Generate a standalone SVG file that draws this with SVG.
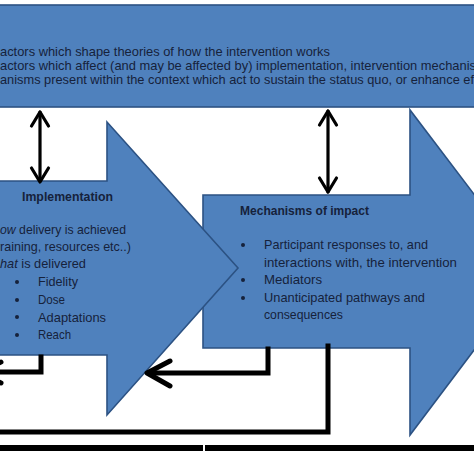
<svg xmlns="http://www.w3.org/2000/svg" width="474" height="474" viewBox="0 0 474 474">
<style>
.shape{fill:#4f81bd;stroke:#2c5283;stroke-width:1.6}
.t{font-family:"Liberation Sans",Arial,sans-serif;font-size:12.8px;fill:#16223b}
.b{font-weight:bold}
.i{font-style:italic}
.ln{fill:none;stroke:#000;stroke-width:5;stroke-linecap:square;stroke-linejoin:miter}
.hd{fill:none;stroke:#000;stroke-width:5;stroke-linecap:round;stroke-linejoin:round}
.dbl{fill:none;stroke:#000;stroke-width:3.2;stroke-linecap:round;stroke-linejoin:round}
</style>
<rect width="474" height="474" fill="#fff"/>
<g id="mechanisms">
<polygon class="shape" points="203,195 410,195 410,110 533,272 410,435 410,348 203,348"/>
<text class="t b" x="240" y="215" textLength="129" lengthAdjust="spacingAndGlyphs">Mechanisms of impact</text>
<circle cx="243" cy="245" r="2" fill="#16223b"/>
<circle cx="243" cy="280" r="2" fill="#16223b"/>
<circle cx="243" cy="298" r="2" fill="#16223b"/>
<text class="t" x="264" y="249" textLength="164" lengthAdjust="spacingAndGlyphs">Participant responses to, and</text>
<text class="t" x="264" y="266.5" textLength="193" lengthAdjust="spacingAndGlyphs">interactions with, the intervention</text>
<text class="t" x="264" y="284" textLength="58" lengthAdjust="spacingAndGlyphs">Mediators</text>
<text class="t" x="264" y="302" textLength="161" lengthAdjust="spacingAndGlyphs">Unanticipated pathways and</text>
<text class="t" x="264" y="318.5" textLength="79" lengthAdjust="spacingAndGlyphs">consequences</text>
</g>
<g id="implementation">
<polygon class="shape" points="-10,181 107,181 107,122 238,268 107,415 107,355 -10,355"/>
<text class="t b" x="22" y="201" textLength="91" lengthAdjust="spacingAndGlyphs">Implementation</text>
<text class="t" x="0" y="234" textLength="126" lengthAdjust="spacingAndGlyphs"><tspan class="i">ow</tspan> delivery is achieved</text>
<text class="t" x="0" y="251" textLength="131" lengthAdjust="spacingAndGlyphs">raining, resources  etc..)</text>
<text class="t" x="0" y="267.5" textLength="86" lengthAdjust="spacingAndGlyphs"><tspan class="i">hat</tspan> is delivered</text>
<circle cx="17" cy="282" r="2" fill="#16223b"/>
<circle cx="17" cy="300" r="2" fill="#16223b"/>
<circle cx="17" cy="317" r="2" fill="#16223b"/>
<circle cx="17" cy="335" r="2" fill="#16223b"/>
<text class="t" x="38" y="286" textLength="40" lengthAdjust="spacingAndGlyphs">Fidelity</text>
<text class="t" x="38" y="304" textLength="27" lengthAdjust="spacingAndGlyphs">Dose</text>
<text class="t" x="38" y="321.5" textLength="68" lengthAdjust="spacingAndGlyphs">Adaptations</text>
<text class="t" x="38" y="339" textLength="33" lengthAdjust="spacingAndGlyphs">Reach</text>
</g>
<g id="context">
<rect class="shape" x="-10" y="5" width="494" height="102" stroke-width="2"/>
<text class="t" x="0" y="56" textLength="330" lengthAdjust="spacingAndGlyphs">actors which shape theories of how the intervention works</text>
<text class="t" x="0" y="70" textLength="476" lengthAdjust="spacingAndGlyphs">actors which affect (and may be affected by) implementation, intervention mechanis</text>
<text class="t" x="0" y="84" textLength="474" lengthAdjust="spacingAndGlyphs">anisms present within the context which act to sustain the status quo, or enhance ef</text>
</g>
<g id="connectors">
<line class="dbl" x1="40" y1="112" x2="40" y2="181"/>
<polyline class="dbl" points="31.5,126 40,112 48.5,126"/>
<polyline class="dbl" points="31.5,168 40,182 48.5,168"/>
<line class="dbl" x1="328" y1="111" x2="328" y2="192"/>
<polyline class="dbl" points="319.5,125 328,111 336.5,125"/>
<polyline class="dbl" points="319.5,178 328,192 336.5,178"/>
<polyline class="ln" points="268,349 268,373 150,373"/>
<polyline class="hd" points="170,361 147,373 170,386"/>
<polyline class="ln" points="328,346 328,432 -5,432"/>
<polyline class="ln" points="41,357 41,372 -5,372"/>
<polyline class="hd" points="1,362 -20,372 1,383"/>
<line x1="-5" y1="448" x2="203" y2="448" stroke="#000" stroke-width="6"/>
<line x1="205" y1="448" x2="480" y2="448" stroke="#000" stroke-width="6"/>
</g>
</svg>
